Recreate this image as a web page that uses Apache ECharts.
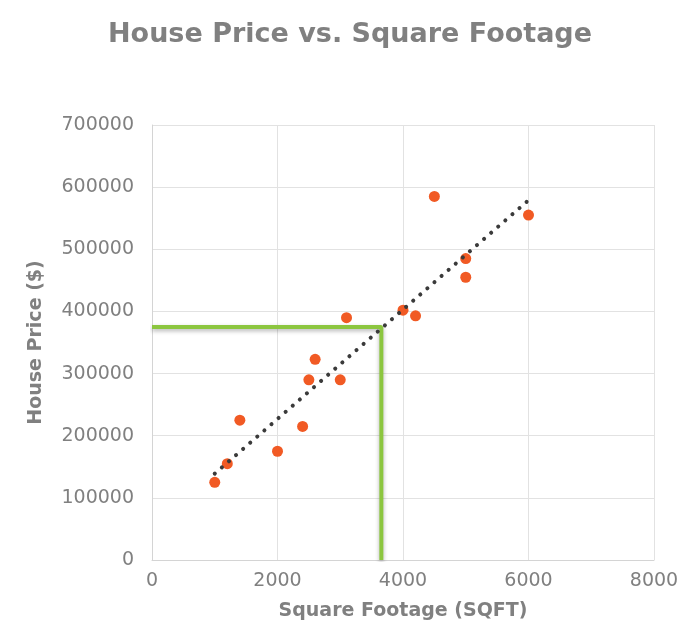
<!DOCTYPE html>
<html>
<head>
<meta charset="utf-8">
<script src="https://cdn.jsdelivr.net/npm/echarts@6/dist/echarts.min.js"></script>
<style>html,body{margin:0;padding:0;background:#fff}#c{width:700px;height:640px}</style>
</head>
<body>
<div id="c"></div>
<script>
const titleText = 'House Price vs. Square Footage';
const xName = 'Square Footage (SQFT)';
const yName = 'House Price ($)';
const sqft  = [1000, 1200, 1400, 2000, 2400, 2500, 2600, 3000, 3100, 4000, 4200, 4500, 5000, 5000, 6000];
const price = [125000, 155000, 225000, 175000, 215000, 290000, 323000, 290000, 390000, 402000, 393000, 585000, 485000, 455000, 555000];
const trendX = [1000, 6000];
const trendY = [139000, 579000];
const guideX = [0, 3655, 3655];
const guideY = [375000, 375000, 0];

const zip = (a, b) => a.map((v, i) => [v, b[i]]);
const gray = '#808080';
const font = 'DejaVu Sans';

const chart = echarts.init(document.getElementById('c'), null, {renderer: 'canvas'});
chart.setOption({
  animation: false,
  title: {
    text: titleText, left: 'center', top: 16,
    textStyle: {color: gray, fontSize: 27, fontWeight: 'bold', fontFamily: font}
  },
  grid: {left: 152, right: 46, top: 125, bottom: 80},
  xAxis: {
    type: 'value', min: 0, max: 8000, interval: 2000,
    name: xName, nameLocation: 'middle', nameGap: 42,
    nameTextStyle: {color: gray, fontSize: 19, fontWeight: 'bold', fontFamily: font},
    axisLine: {lineStyle: {color: '#d4d4d4'}},
    axisTick: {show: false},
    axisLabel: {color: gray, fontSize: 19, fontFamily: font, margin: 12, formatter: v => String(v)},
    splitLine: {lineStyle: {color: '#e2e2e2'}}
  },
  yAxis: {
    type: 'value', min: 0, max: 700000, interval: 100000,
    name: yName, nameLocation: 'middle', nameGap: 106,
    nameTextStyle: {color: gray, fontSize: 19, fontWeight: 'bold', fontFamily: font},
    axisLine: {show: true, lineStyle: {color: '#d4d4d4'}},
    axisTick: {show: false},
    axisLabel: {color: gray, fontSize: 19, fontFamily: font, margin: 18, formatter: v => String(v)},
    splitLine: {lineStyle: {color: '#e2e2e2'}}
  },
  series: [
    {
      type: 'line', data: zip(guideX, guideY), symbol: 'none', z: 1,
      lineStyle: {color: '#8cc63f', width: 4, shadowColor: 'rgba(0,0,0,0.3)', shadowBlur: 4, shadowOffsetY: 2}
    },
    {
      type: 'scatter', data: zip(sqft, price), symbolSize: 11, z: 2,
      itemStyle: {color: '#f15a24', opacity: 1}
    },
    {
      type: 'line', data: zip(trendX, trendY), symbol: 'none', z: 3,
      lineStyle: {color: '#3a3a3a', width: 4, type: [0.1, 9.3], cap: 'round'}
    }
  ]
});
</script>
</body>
</html>
